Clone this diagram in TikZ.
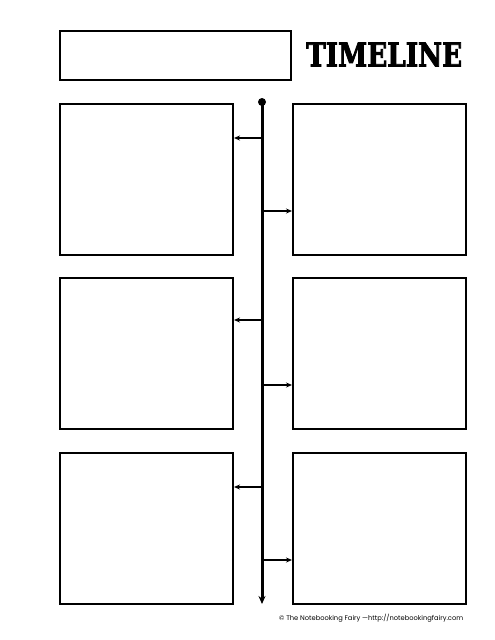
\documentclass[tikz,border=0pt]{standalone}
\usepackage{fontspec}
\setmainfont{DejaVu Serif}
\newfontfamily\titlefont[FakeBold=2.5]{DejaVu Serif Condensed Bold}
\newfontfamily\footfont{Poppins}
\usetikzlibrary{arrows.meta}
\begin{document}
\begin{tikzpicture}[x=1pt,y=-1pt,
  boxstyle/.style={draw=black,line width=2pt,minimum width=173pt,minimum height=151pt,inner sep=0pt,anchor=north west},
  linkarrow/.style={line width=1.6pt,-{Stealth[length=6pt,width=5pt]}},
  timeline/.style={line width=3pt,-{Stealth[length=8pt,width=7pt]}}]
\useasboundingbox (0,0) rectangle (495,640);
\node[draw=black,line width=2pt,minimum width=231pt,minimum height=49pt,inner sep=0pt,anchor=north west] (titlebox) at (59,30) {};
\node[inner sep=0pt,anchor=west] (title) at (306,54.5) {\resizebox{156pt}{24pt}{\titlefont TIMELINE}};
\node[boxstyle] (L1) at (59,103) {};
\node[boxstyle] (L2) at (59,277) {};
\node[boxstyle] (L3) at (59,452) {};
\node[boxstyle] (R1) at (292,103) {};
\node[boxstyle] (R2) at (292,277) {};
\node[boxstyle] (R3) at (292,452) {};
\node[circle,fill=black,inner sep=0pt,minimum size=8pt] (dot) at (262,102) {};
\coordinate (tend) at (262,604);
\draw[timeline] (dot.center) -- (tend);
\coordinate (a1) at (262,138);
\coordinate (b1) at (262,211);
\coordinate (a2) at (262,320);
\coordinate (b2) at (262,385);
\coordinate (a3) at (262,487);
\coordinate (b3) at (262,560);
\draw[linkarrow] (a1) -- (L1.east |- a1);
\draw[linkarrow] (b1) -- (R1.west |- b1);
\draw[linkarrow] (a2) -- (L2.east |- a2);
\draw[linkarrow] (b2) -- (R2.west |- b2);
\draw[linkarrow] (a3) -- (L3.east |- a3);
\draw[linkarrow] (b3) -- (R3.west |- b3);
\node[inner sep=0pt,anchor=west] (foot) at (279,618) {\resizebox{184pt}{!}{\footfont © The Notebooking Fairy —http://notebookingfairy.com}};
\end{tikzpicture}
\end{document}
